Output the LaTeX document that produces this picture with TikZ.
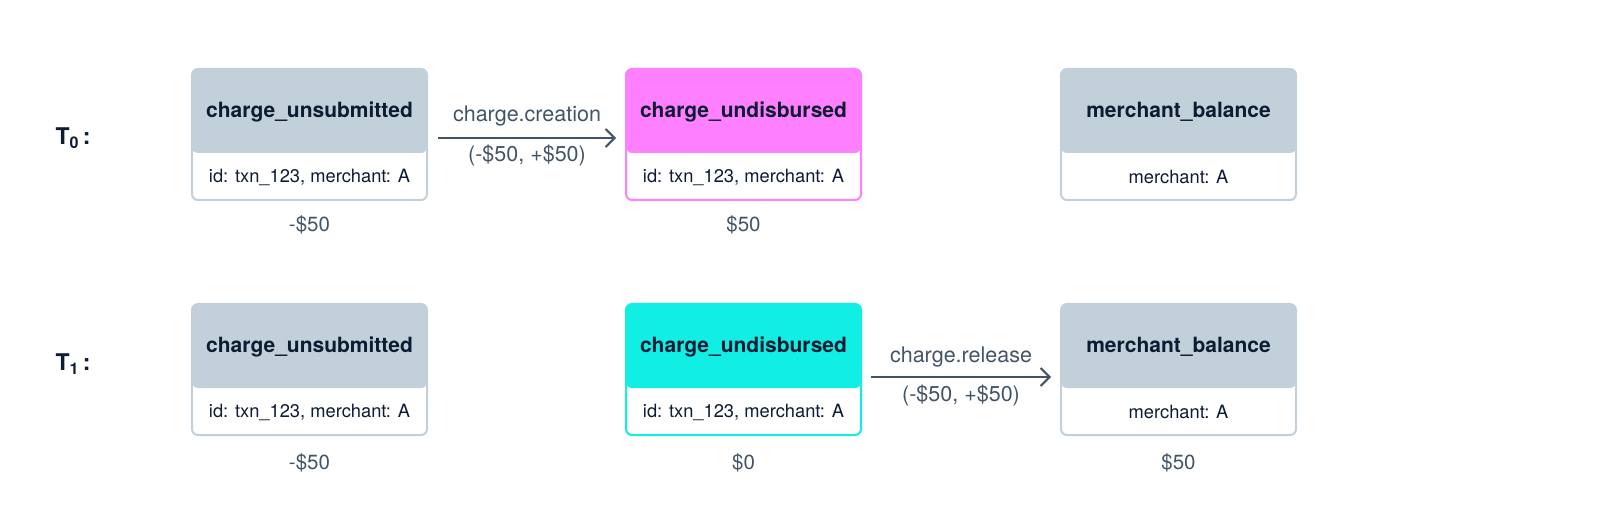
\documentclass[tikz,border=0pt]{standalone}
\usepackage{fontspec}
\setmainfont{TeX Gyre Heros}
\usetikzlibrary{arrows.meta}
\definecolor{hdrgray}{HTML}{C1D0D9}
\definecolor{hotpink}{HTML}{FF80FF}
\definecolor{aqua}{HTML}{11EEE4}
\definecolor{inkdark}{HTML}{0D1B33}
\definecolor{slate}{HTML}{425466}
\tikzset{
  acct/.style={draw=#1, fill=white, line width=2pt, rounded corners=6pt,
    minimum width=235pt, minimum height=131pt, inner sep=0pt,
    path picture={\fill[#1] (path picture bounding box.north west) rectangle ([yshift=-84pt]path picture bounding box.north east);}},
  title/.style={font=\fontsize{21}{25}\selectfont\bfseries, text=inkdark, inner sep=0pt},
  body/.style={font=\fontsize{18.3}{22}\selectfont, text=inkdark, inner sep=0pt},
  val/.style={font=\fontsize{20.5}{24}\selectfont, text=slate, inner sep=0pt},
  lbl/.style={font=\fontsize{21.5}{25}\selectfont, text=slate, inner sep=0pt},
  tlab/.style={font=\fontsize{23}{26}\selectfont\bfseries, text=inkdark, inner sep=0pt},
  flow/.style={draw=slate, line width=2pt, -{Straight Barb[length=9pt,width=18pt,line width=2pt]}}
}
\begin{document}
\begin{tikzpicture}[x=1pt,y=-1pt]
\useasboundingbox (0,0) rectangle (1600,518);
% T labels
\node[tlab] (t0) at (73,138) {T\textsubscript{0}\,:};
\node[tlab] (t1) at (73,364) {T\textsubscript{1}\,:};
% Row 1
\node[acct=hdrgray] (a1) at (309.5,134.5) {};
\node[acct=hotpink] (b1) at (743.5,134.5) {};
\node[acct=hdrgray] (c1) at (1178.5,134.5) {};
% Row 2
\node[acct=hdrgray] (a2) at (309.5,369.5) {};
\node[acct=aqua] (b2) at (743.5,369.5) {};
\node[acct=hdrgray] (c2) at (1178.5,369.5) {};
% titles and bodies
\foreach \n/\t/\b in {a1/charge\_unsubmitted/{id: txn\_123, merchant: A},
                      b1/charge\_undisbursed/{id: txn\_123, merchant: A},
                      c1/merchant\_balance/{merchant: A},
                      a2/charge\_unsubmitted/{id: txn\_123, merchant: A},
                      b2/charge\_undisbursed/{id: txn\_123, merchant: A},
                      c2/merchant\_balance/{merchant: A}}{
  \node[title] (\n-t) at ([yshift=-44pt]\n.north) {\t};
  \node[body] (\n-b) at ([yshift=24pt]\n.south) {\b};
}
% values
\node[val] (va1) at ([yshift=-24pt]a1.south) {-\$50};
\node[val] (vb1) at ([yshift=-24pt]b1.south) {\$50};
\node[val] (va2) at ([yshift=-27pt]a2.south) {-\$50};
\node[val] (vb2) at ([yshift=-27pt]b2.south) {\$0};
\node[val] (vc2) at ([yshift=-27pt]c2.south) {\$50};
% arrows
\draw[flow] ([xshift=10pt,yshift=-3.5pt]a1.east) -- ([xshift=-9pt,yshift=-3.5pt]b1.west)
  node[lbl, midway, yshift=22pt] (l1a) {charge.creation}
  node[lbl, midway, yshift=-18pt] (l1b) {(-\$50, +\$50)};
\draw[flow] ([xshift=9pt,yshift=-7.5pt]b2.east) -- ([xshift=-9pt,yshift=-7.5pt]c2.west)
  node[lbl, midway, yshift=20pt] (l2a) {charge.release}
  node[lbl, midway, yshift=-19pt] (l2b) {(-\$50, +\$50)};
\end{tikzpicture}
\end{document}
